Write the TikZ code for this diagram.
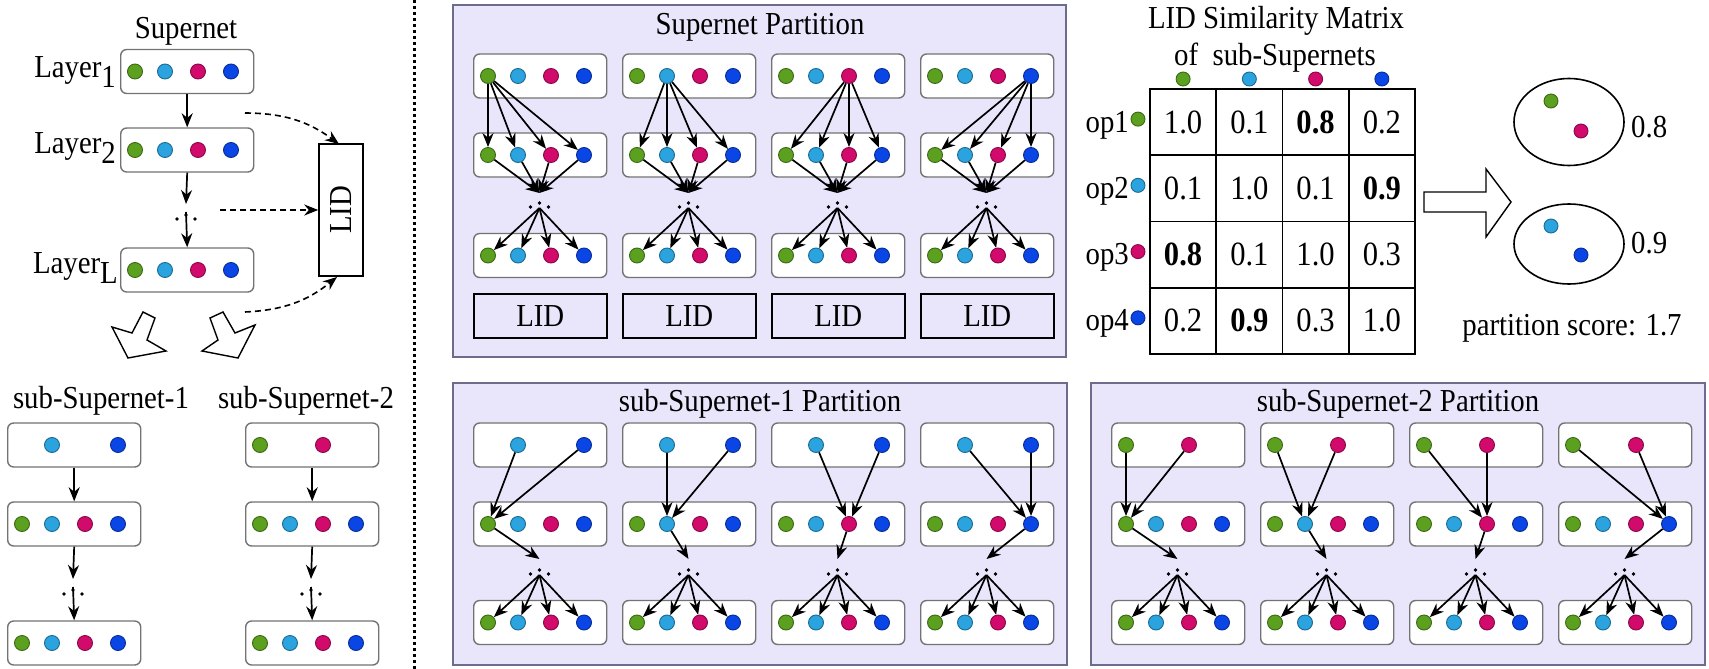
\documentclass[tikz,border=0pt]{standalone}
\usepackage{fontspec}
\setmainfont{Liberation Serif}[FakeStretch=0.9]
\usetikzlibrary{arrows.meta,shapes.geometric}
\definecolor{cg}{HTML}{5CA01F}
\definecolor{cc}{HTML}{2AA3DF}
\definecolor{cp}{HTML}{D10A6C}
\definecolor{cb}{HTML}{0A45E6}
\definecolor{pan}{HTML}{E9E6FB}
\definecolor{panb}{HTML}{6E6C8C}
\tikzset{
  lay/.style={draw=black!55, line width=1.4pt, rounded corners=6pt, fill=white, minimum width=133pt, minimum height=44pt, inner sep=0pt},
  dot/.style={circle, inner sep=0pt, minimum size=15pt, line width=0.9pt},
  d0/.style={dot, fill=cg, draw=cg!65!black},
  d1/.style={dot, fill=cc, draw=cc!65!black},
  d2/.style={dot, fill=cp, draw=cp!65!black},
  d3/.style={dot, fill=cb, draw=cb!65!black},
  arr/.style={-{Stealth[length=14pt,width=11pt]}, line width=1.7pt},
  darr/.style={-{Stealth[length=14pt,width=11pt]}, line width=1.6pt, dash pattern=on 6pt off 4pt},
  panel/.style={fill=pan, draw=panb, line width=1.5pt},
  lidbox/.style={draw, line width=1.5pt, minimum width=133pt, minimum height=44pt, inner sep=0pt},
  txt/.style={inner sep=0pt},
  hollow/.style={fill=white, draw=black, line width=1.4pt, line join=miter},
}
\newcommand{\lbox}[4]{%
  \node[lay, anchor=west] (#1) at (#2,#3) {};
  \foreach \i in {#4}{%
    \pgfmathsetmacro\ox{{15,45,78,111}[\i]}%
    \node[d\i] (#1-\i) at ({#2+\ox},#3) {};
  }%
}
\newcommand{\edots}[2]{%
  \fill ({#1-9},#2) circle (1.9pt);
  \fill ({#1+9},#2) circle (1.9pt);
  \fill (#1,{#2-4}) circle (1.9pt);
}
\begin{document}
\begin{tikzpicture}[x=1pt,y=-1pt,font=\fontsize{32}{38}\selectfont]
\useasboundingbox (0,0) rectangle (1709,669);
\fill[white] (0,0) rectangle (1709,669);

% ---------- left column ----------
\node[txt] (supt) at (186,31) {Supernet};
\lbox{L1}{120}{71.5}{0,1,2,3}
\lbox{L2}{120}{150}{0,1,2,3}
\lbox{LL}{120}{270}{0,1,2,3}
\node[txt, anchor=east] (l1t) at (116,72) {Layer\raisebox{-0.3em}{1}};
\node[txt, anchor=east] (l2t) at (116,148) {Layer\raisebox{-0.3em}{2}};
\node[txt, anchor=east] (llt) at (118,268) {Layer\raisebox{-0.3em}{L}};
\coordinate (lein) at (186,204);
\coordinate (leout) at (186,212);
\edots{186}{219}
\draw[arr] (L1.south) -- (L2.north);
\draw[arr] (L2.south) -- (lein);
\draw[arr] (leout) -- (LL.north);
\node[draw, line width=1.5pt, minimum width=132pt, minimum height=44pt, inner sep=0pt, rotate=90] (lid) at (341,210) {LID};
\coordinate (da) at (245,113);
\coordinate (db) at (220,210);
\coordinate (dc) at (245,312);
\coordinate (lidt) at (339,144);
\coordinate (lidb) at (337,277);
\draw[darr] (da) to[bend left=18] (lidt);
\draw[darr] (db) -- (lid.north);
\draw[darr] (dc) to[bend right=18] (lidb);
% hollow arrows
\draw[hollow] (143,312) -- (155,318) -- (147,340) -- (166,351) -- (128,358) -- (112,327) -- (132,333) -- cycle;
\draw[hollow] (223,312) -- (210,318) -- (218,340) -- (202,351) -- (238,358) -- (255,325) -- (235,333) -- cycle;
\node[txt] (s1t) at (101,401) {sub-Supernet-1};
\node[txt] (s2t) at (306,401) {sub-Supernet-2};
\lbox{SA1}{7}{445}{1,3}
\lbox{SA2}{7}{524}{0,1,2,3}
\lbox{SA3}{7}{643}{0,1,2,3}
\lbox{SB1}{245}{445}{0,2}
\lbox{SB2}{245}{524}{0,1,2,3}
\lbox{SB3}{245}{643}{0,1,2,3}
\coordinate (sain) at (73,579); \coordinate (saout) at (73,587);
\coordinate (sbin) at (311,579); \coordinate (sbout) at (311,587);
\edots{73}{594}
\edots{311}{594}
\draw[arr] (SA1.south) -- (SA2.north);
\draw[arr] (SA2.south) -- (sain);
\draw[arr] (saout) -- (SA3.north);
\draw[arr] (SB1.south) -- (SB2.north);
\draw[arr] (SB2.south) -- (sbin);
\draw[arr] (sbout) -- (SB3.north);

\draw[line width=3pt, dash pattern=on 3pt off 3pt] (414,0) -- (414,669);

% ---------- top panel ----------
\draw[panel] (453,5) rectangle (1066,357);
\node[txt] (tpt) at (760,27) {Supernet Partition};
\foreach \k in {0,1,2,3}{
  \pgfmathsetmacro\bx{473+149*\k}
  \pgfmathsetmacro\cx{\bx+66.5}
  \lbox{ta\k}{\bx}{76}{0,1,2,3}
  \lbox{tb\k}{\bx}{155}{0,1,2,3}
  \lbox{tc\k}{\bx}{255.5}{0,1,2,3}
  \coordinate (tin\k) at (\cx,193);
  \coordinate (tout\k) at (\cx,208);
  \edots{\cx}{207}
  \foreach \j in {0,1,2,3}{
    \draw[arr] (ta\k-\k) -- (tb\k-\j);
    \draw[arr] (tb\k-\j) -- (tin\k);
    \draw[arr] (tout\k) -- (tc\k-\j);
  }
  \node[lidbox, anchor=north west] (tl\k) at (\bx,293) {LID};
}

% ---------- bottom panels ----------
\draw[panel] (453,383) rectangle (1067,665);
\node[txt] (b1t) at (760,404) {sub-Supernet-1 Partition};
\draw[panel] (1091,383) rectangle (1705,665);
\node[txt] (b2t) at (1398,404) {sub-Supernet-2 Partition};
\foreach \p/\px/\a/\b in {u/473/1/3, v/1111/0/2}{
  \foreach \k in {0,1,2,3}{
    \pgfmathsetmacro\bx{\px+149*\k}
    \pgfmathsetmacro\cx{\bx+66.5}
    \lbox{\p a\k}{\bx}{445}{\a,\b}
    \lbox{\p b\k}{\bx}{524}{0,1,2,3}
    \lbox{\p c\k}{\bx}{622.5}{0,1,2,3}
    \coordinate (\p in\k) at (\cx,559);
    \coordinate (\p out\k) at (\cx,575);
    \edots{\cx}{574}
    \draw[arr] (\p a\k-\a) -- (\p b\k-\k);
    \draw[arr] (\p a\k-\b) -- (\p b\k-\k);
    \draw[arr] (\p b\k-\k) -- (\p in\k);
    \foreach \j in {0,1,2,3}{
      \draw[arr] (\p out\k) -- (\p c\k-\j);
    }
  }
}

% ---------- matrix ----------
\node[txt] (mt1) at (1276,21) {LID Similarity Matrix};
\node[txt] (mt2) at (1275,58) {of\ \ sub-Supernets};
\foreach \g in {0,1,2,3,4}{
  \pgfmathsetmacro\gx{1150+66.25*\g}
  \pgfmathsetmacro\gy{89+66.25*\g}
  \draw[line width=1.6pt, line cap=rect] (\gx,89) -- (\gx,354);
  \draw[line width=1.6pt, line cap=rect] (1150,\gy) -- (1415,\gy);
}
\foreach \r/\va/\vb/\vc/\vd in {0/1.0/0.1/\textbf{0.8}/0.2, 1/0.1/1.0/0.1/\textbf{0.9}, 2/\textbf{0.8}/0.1/1.0/0.3, 3/0.2/\textbf{0.9}/0.3/1.0}{
  \pgfmathsetmacro\cy{89+33.1+66.25*\r}
  \node[txt, font=\fontsize{34}{38}\selectfont] (m\r a) at (1183.1,\cy) {\va};
  \node[txt, font=\fontsize{34}{38}\selectfont] (m\r b) at (1249.4,\cy) {\vb};
  \node[txt, font=\fontsize{34}{38}\selectfont] (m\r c) at (1315.6,\cy) {\vc};
  \node[txt, font=\fontsize{34}{38}\selectfont] (m\r d) at (1381.9,\cy) {\vd};
  \pgfmathsetmacro\ry{\cy-3}
  \pgfmathsetmacro\ly{\cy+3}
  \pgfmathtruncatemacro\rn{\r+1}
  \node[d\r, minimum size=14pt] (rd\r) at (1138,\ry) {};
  \node[txt, anchor=east] (op\r) at (1129,\ly) {op\rn};
  \pgfmathsetmacro\hx{1183.1+66.25*\r}
  \node[d\r, minimum size=14pt] (hd\r) at (\hx,79) {};
}
% arrow to clusters
\draw[hollow] (1424,192) -- (1486,192) -- (1486,169) -- (1511,202) -- (1486,237) -- (1486,212) -- (1424,212) -- cycle;
\node[draw, ellipse, line width=1.6pt, minimum width=110pt, minimum height=87pt, inner sep=0pt] (e1) at (1569,122) {};
\node[draw, ellipse, line width=1.6pt, minimum width=110pt, minimum height=80pt, inner sep=0pt] (e2) at (1569,244) {};
\node[d0, minimum size=14pt] (e1a) at (1551,101) {};
\node[d2, minimum size=14pt] (e1b) at (1581,131) {};
\node[d1, minimum size=14pt] (e2a) at (1551,226) {};
\node[d3, minimum size=14pt] (e2b) at (1581,255) {};
\node[txt, anchor=west] (s08) at (1631,127) {0.8};
\node[txt, anchor=west] (s09) at (1631,243) {0.9};
\node[txt] (ps) at (1572,328) {partition score: 1.7};
\end{tikzpicture}
\end{document}
